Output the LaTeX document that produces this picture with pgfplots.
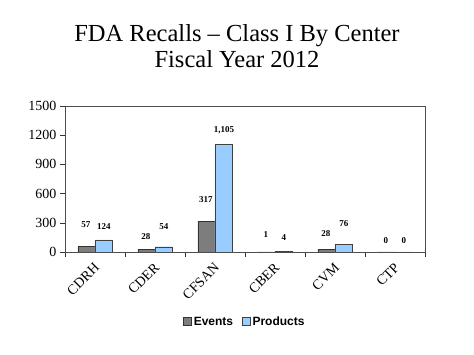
\documentclass[border=0pt]{standalone}
\usepackage{pgfplots}
\pgfplotsset{compat=1.18}
\usepackage{fontspec}
\setmainfont{Liberation Serif}
\newfontfamily\arialfont{Liberation Sans}
\definecolor{evgray}{RGB}{125,125,125}
\definecolor{prblue}{RGB}{153,204,255}
\begin{document}
\begin{tikzpicture}
\path[use as bounding box] (0,0) rectangle (474pt,355pt);
\begin{axis}[
  at={(65pt,103pt)}, anchor=south west,
  scale only axis, width=360pt, height=146pt,
  xmin=-0.5, xmax=5.5, ymin=0, ymax=1500,
  ytick={0,300,...,1500},
  xtick={0,...,5},
  xticklabels={CDRH,CDER,CFSAN,CBER,CVM,CTP},
  minor xtick={-0.5,0.5,...,5.5},
  tick align=outside,
  xtick pos=bottom, ytick pos=left,
  major x tick style={draw=none},
  minor tick length=5pt, major tick length=5pt,
  x tick label style={rotate=45, anchor=north east, font=\fontsize{14}{16}\selectfont, xshift=-1pt, yshift=1pt},
  y tick label style={font=\fontsize{14}{16}\selectfont},
  /pgf/number format/assume math mode=true,
  /pgf/number format/1000 sep={},
  axis line style={black!70},
  tick style={black!80},
  legend style={at={(0.5,-0.48)}, anchor=center, draw=none, font=\arialfont\bfseries\fontsize{12}{14}\selectfont, legend columns=2, /tikz/every even column/.append style={column sep=7pt}},
  legend image code/.code={\draw[#1] (0pt,-3.5pt) rectangle (8pt,4.5pt);},
]
\addplot[ybar, bar width=17pt, bar shift=-8.5pt, fill=evgray, draw=black!80] coordinates {(0,57) (1,28) (2,317) (3,1) (4,28) (5,0)};
\addlegendentry{Events}
\addplot[ybar, bar width=17pt, bar shift=8.5pt, fill=prblue, draw=black!75] coordinates {(0,124) (1,54) (2,1105) (3,4) (4,76) (5,0)};
\addlegendentry{Products}
\addplot[forget plot, only marks, mark=none, nodes near coords, point meta=explicit symbolic,
  nodes near coords style={anchor=center, font=\bfseries\fontsize{9}{10}\selectfont}] coordinates {
  (-0.15,277) [57] (0.85,154) [28] (1.85,534) [317] (2.85,175) [1] (3.85,185) [28] (4.85,113) [0]};
\addplot[forget plot, only marks, mark=none, nodes near coords, point meta=explicit symbolic,
  nodes near coords style={anchor=center, font=\bfseries\fontsize{9}{10}\selectfont}] coordinates {
  (0.15,260) [124] (1.15,260) [54] (2.15,1253) [{1,105}] (3.15,144) [4] (4.15,288) [76] (5.15,113) [0]};
\end{axis}
\node[font=\fontsize{24.5}{28}\selectfont] at (237pt,319pt) {FDA Recalls – Class I By Center};
\node[font=\fontsize{24.5}{28}\selectfont] at (237pt,296pt) {Fiscal Year 2012};
\end{tikzpicture}
\end{document}
